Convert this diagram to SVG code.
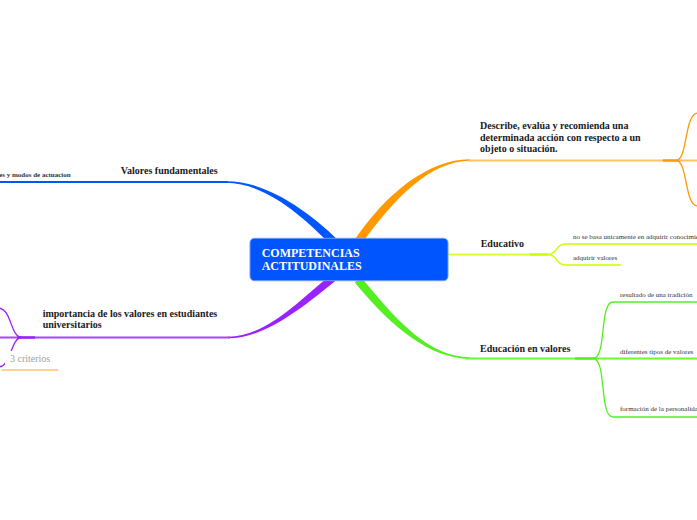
<svg xmlns="http://www.w3.org/2000/svg" width="697" height="520" viewBox="0 0 697 520">
<style>
.lbl{font-family:"Liberation Serif","Times New Roman",serif;font-weight:bold;font-size:10px;fill:#1a1a1a}
.sub{font-family:"Liberation Serif","Times New Roman",serif;font-size:7px;fill:#333}
.thin{fill:none;stroke-width:1.3}
.main{fill:none;stroke-width:1.8}
.dark{fill:none;stroke-width:2.4}
</style>
<rect width="697" height="520" fill="#ffffff"/>
<g id="connectors">
  <!-- blue -->
  <path d="M226,181.2 C265,180.8 308,209.5 345,246.8 L339,253.2 C302,214.5 265,183.2 226,182.8 Z" fill="#0055ff"/>
  <path class="main" d="M0,182 L228,182" stroke="#0055ff"/>
  <!-- orange -->
  <path d="M470,159.2 C430,158.8 386,192 352.7,242.8 L359.3,247.2 C394,198 430,161.2 470,160.8 Z" fill="#ff9900"/>
  <path class="main" d="M468,160.5 L697,160.5" stroke="#ffc266"/>
  <path class="dark" d="M663,160.5 L677,160.5" stroke="#ff9900"/>
  <path class="thin" d="M676,160.5 C688,160.5 684,113 698,113" stroke="#ff9900"/>
  <path class="thin" d="M676,160.5 C688,160.5 684,206 698,206" stroke="#ff9900"/>
  <!-- yellow -->
  <path class="main" d="M447,254.5 L548,254.5" stroke="#d9ff33" stroke-width="2.2"/>
  <path class="dark" d="M530,254.5 L548,254.5" stroke="#ccff00"/>
  <path class="thin" d="M547,254.5 C558,254.5 555,244 566,244 L697,244" stroke="#ccff00"/>
  <path class="thin" d="M547,254.5 C558,254.5 555,265 566,265 L621,265" stroke="#ccff00"/>
  <!-- green -->
  <path d="M470,357.2 C430,357.2 398,322.5 361.3,277.5 L354.7,282.5 C392,327.5 430,358.8 470,358.8 Z" fill="#55ee22"/>
  <path class="main" d="M466,358.5 L697,358.5" stroke="#66ff33"/>
  <path class="dark" d="M575,358.5 L594,358.5" stroke="#55ee22"/>
  <path class="thin" d="M593,358.5 C607,358.5 599,302 613,302 L697,302" stroke="#55ee22"/>
  <path class="thin" d="M593,358.5 C607,358.5 599,417 613,417 L697,417" stroke="#55ee22"/>
  <!-- purple -->
  <path d="M228,336.7 C265,336.7 297,302.7 329.8,275.7 L336.2,280.3 C303,307.3 265,338.3 228,338.3 Z" fill="#9922ff"/>
  <path class="main" d="M0,337.5 L230,337.5" stroke="#aa44ff"/>
  <path class="dark" d="M17,337.5 L35,337.5" stroke="#9922ff"/>
  <path class="thin" d="M22,337.5 C10,337.5 12,308 -2,308" stroke="#9922ff"/>
  <path class="thin" d="M22,337.5 C10,337.5 12,367 -2,367" stroke="#9922ff"/>
</g>
<g id="node-center">
  <rect x="250" y="238.3" width="198" height="42.4" rx="4.5" fill="#0055ff" stroke="#6f9bff" stroke-width="1"/>
  <text x="261.7" y="256.7" font-family="Liberation Serif, Times New Roman, serif" font-weight="bold" font-size="12" fill="#ffffff">COMPETENCIAS</text>
  <text x="261.7" y="270.2" font-family="Liberation Serif, Times New Roman, serif" font-weight="bold" font-size="12" fill="#ffffff">ACTITUDINALES</text>
</g>
<g id="node-valores">
  <text class="lbl" x="120.7" y="174.3">Valores fundamentales</text>
</g>
<g id="node-valores-child">
  <text class="sub" x="70.7" y="176.7" text-anchor="end" font-weight="bold" fill="#1a1a1a">es y modos de actuacion</text>
</g>
<g id="node-describe">
  <text class="lbl" x="480" y="129">Describe, evalúa y recomienda una</text>
  <text class="lbl" x="480" y="140.6">determinada acción con respecto a un</text>
  <text class="lbl" x="480" y="152.3">objeto o situación.</text>
</g>
<g id="node-educativo">
  <text class="lbl" x="480.7" y="246.7">Educativo</text>
</g>
<g id="node-no-se-basa">
  <text class="sub" x="573" y="238.6">no se basa unicamente en adquirir conocimie</text>
</g>
<g id="node-adquirir">
  <text class="sub" x="573" y="260.3">adquirir valores</text>
</g>
<g id="node-educacion">
  <text class="lbl" x="480" y="351.7">Educación en valores</text>
</g>
<g id="node-resultado">
  <text class="sub" x="620" y="296.7">resultado de una tradición</text>
</g>
<g id="node-diferentes">
  <text class="sub" x="620" y="354">diferentes tipos de valores</text>
</g>
<g id="node-formacion">
  <text class="sub" x="620" y="410.7">formación de la personalida</text>
</g>
<g id="node-importancia">
  <text class="lbl" x="42.7" y="316.7">importancia de los valores en estudiantes</text>
  <text class="lbl" x="42.7" y="328">universitarios</text>
</g>
<g id="node-criterios">
  <rect x="5" y="351" width="53" height="18" fill="#ffffff"/>
  <text x="10" y="361.7" font-family="Liberation Serif, Times New Roman, serif" font-size="10" fill="#a0a0a0">3 criterios</text>
  <path d="M1.7,370 L58.3,370" stroke="#ffc266" stroke-width="1.5" fill="none"/>
</g>
</svg>
